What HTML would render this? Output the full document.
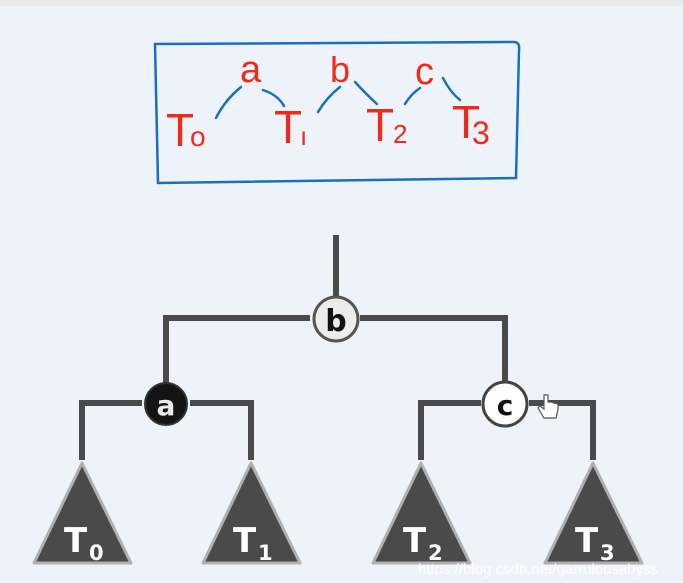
<!DOCTYPE html>
<html><head><style>
html,body{margin:0;padding:0;}
body{width:683px;height:578px;background:#eef3fa;overflow:hidden;}
</style></head><body>
<svg width="683" height="578" xmlns="http://www.w3.org/2000/svg">
<rect x="0" y="0" width="683" height="6" fill="#e9ebee"/>
<path d="M155,44 L515,42 Q520,43 519,50 L516,178 L158,183 Z" fill="none" stroke="#1a6fc0" stroke-width="2.5"/>
<g fill="none" stroke="#1a6fc0" stroke-width="2.5" stroke-linecap="round">
<path d="M216,118 Q225,100 241,87"/>
<path d="M263,90 Q278,95 284,106"/>
<path d="M318,112 Q327,97 340,87"/>
<path d="M355,82 Q367,95 377,104"/>
<path d="M405,104 Q411,94 420,88"/>
<path d="M443,78 Q450,92 460,100"/>
</g>
<g font-family="Liberation Sans, sans-serif" fill="#ee2a1c" font-size="46">
<text x="166" y="146">T</text><text x="190" y="146" font-size="28">o</text>
<text x="240" y="82" font-size="38">a</text>
<text x="274" y="143">T</text><text x="300" y="145" font-size="26">ı</text>
<text x="330" y="82" font-size="36">b</text>
<text x="366" y="141">T</text><text x="393" y="143" font-size="26">2</text>
<text x="415" y="84" font-size="38">c</text>
<text x="452" y="138">T</text><text x="472" y="144" font-size="32">3</text>
</g>
<g stroke="#4a4a4a" stroke-width="6" fill="none">
<path d="M336,235 V297"/>
<path d="M310,318 H166 V385"/>
<path d="M360,318 H505 V385"/>
<path d="M142,403 H82 V460"/>
<path d="M190,403 H251 V460"/>
<path d="M481,403 H421 V460"/>
<path d="M529,403 H593 V460"/>
</g>
<g fill="#4a4a4a" stroke="#b0b0b0" stroke-width="3" stroke-linejoin="round">
<polygon points="82,463 34,563 131,563"/>
<polygon points="251,463 203,563 300,563"/>
<polygon points="421,463 373,563 470,563"/>
<polygon points="593,463 545,563 642,563"/>
</g>
<g font-family="DejaVu Sans, sans-serif" font-weight="bold" fill="#fff">
<text x="64" y="552" font-size="34">T</text><text x="89" y="560" font-size="21">0</text>
<text x="233" y="552" font-size="34">T</text><text x="258" y="560" font-size="21">1</text>
<text x="403" y="552" font-size="34">T</text><text x="428" y="560" font-size="21">2</text>
<text x="575" y="552" font-size="34">T</text><text x="600" y="560" font-size="21">3</text>
</g>
<circle cx="336" cy="319" r="22" fill="#ececec" stroke="#555" stroke-width="3"/>
<text x="336" y="331" text-anchor="middle" font-family="DejaVu Sans, sans-serif" font-weight="bold" font-size="30" fill="#111">b</text>
<circle cx="166" cy="404" r="21" fill="#141414" stroke="#333" stroke-width="2"/>
<text x="166" y="415" text-anchor="middle" font-family="DejaVu Sans, sans-serif" font-weight="bold" font-size="28" fill="#e8e8e8">a</text>
<circle cx="505" cy="404" r="22" fill="#fff" stroke="#444" stroke-width="3"/>
<text x="505" y="415" text-anchor="middle" font-family="DejaVu Sans, sans-serif" font-weight="bold" font-size="28" fill="#111">c</text>
<path d="M544,395 l0,14 l-4,-3 l-2,2 l6,10 l12,0 l2,-9 l0,-5 l-4,-1 l-3,-1 l-3,0 l0,-7 z" fill="#fff" stroke="#555" stroke-width="1.2"/>
<text x="418" y="574" font-family="Liberation Sans, sans-serif" font-size="15" fill="#ffffff" opacity="0.85">https://blog.csdn.net/garrulousabyss</text>
</svg>
</body></html>
